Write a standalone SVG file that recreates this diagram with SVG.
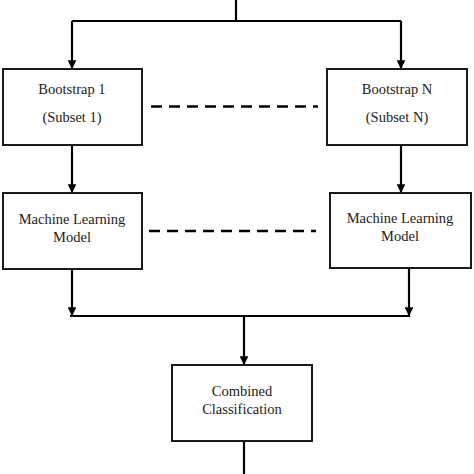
<svg xmlns="http://www.w3.org/2000/svg" width="474" height="474" viewBox="0 0 474 474">
<style>
.box{fill:#fff;stroke:#1a1a1a;stroke-width:2}
.ln{fill:none;stroke:#000;stroke-width:2.2}
.dash{fill:none;stroke:#000;stroke-width:2.5;stroke-dasharray:11,7}
text{font-family:"Liberation Serif",serif;font-size:14.5px;fill:#222;text-anchor:middle}
</style>
<defs>
<marker id="ah" viewBox="0 0 10 10" refX="10" refY="5" markerWidth="4" markerHeight="4" orient="auto" markerUnits="strokeWidth">
<path d="M0,0 L10,5 L0,10 z" fill="#000"/>
</marker>
</defs>
<rect width="474" height="474" fill="#fff"/>
<g id="connectors">
<path class="ln" d="M236,0 V21"/>
<path class="ln" d="M72,21 H401"/>
<path class="ln" d="M72,21 V69" marker-end="url(#ah)"/>
<path class="ln" d="M401,21 V69" marker-end="url(#ah)"/>
<path class="ln" d="M72,145 V193" marker-end="url(#ah)"/>
<path class="ln" d="M401,145 V193" marker-end="url(#ah)"/>
<path class="ln" d="M72,269 V316" marker-end="url(#ah)"/>
<path class="ln" d="M409,268 V316" marker-end="url(#ah)"/>
<path class="ln" d="M70,316 H410"/>
<path class="ln" d="M244,316 V365" marker-end="url(#ah)"/>
<path class="ln" d="M244,441 V474"/>
<path class="dash" d="M151,106.5 H318"/>
<path class="dash" d="M149,231 H316"/>
</g>
<g id="bootstrap1">
<rect class="box" x="3" y="69" width="139" height="76"/>
<text x="72" y="94">Bootstrap 1</text>
<text x="72" y="122">(Subset 1)</text>
</g>
<g id="bootstrapN">
<rect class="box" x="327" y="69" width="140" height="76"/>
<text x="397" y="94">Bootstrap N</text>
<text x="397" y="122">(Subset N)</text>
</g>
<g id="ml1">
<rect class="box" x="3" y="193" width="139" height="76"/>
<text x="72" y="224">Machine Learning</text>
<text x="72" y="242">Model</text>
</g>
<g id="mlN">
<rect class="box" x="330" y="193" width="141" height="75"/>
<text x="400" y="223">Machine Learning</text>
<text x="400" y="241">Model</text>
</g>
<g id="combined">
<rect class="box" x="172" y="365" width="140" height="76"/>
<text x="242" y="396">Combined</text>
<text x="242" y="414">Classification</text>
</g>
</svg>
